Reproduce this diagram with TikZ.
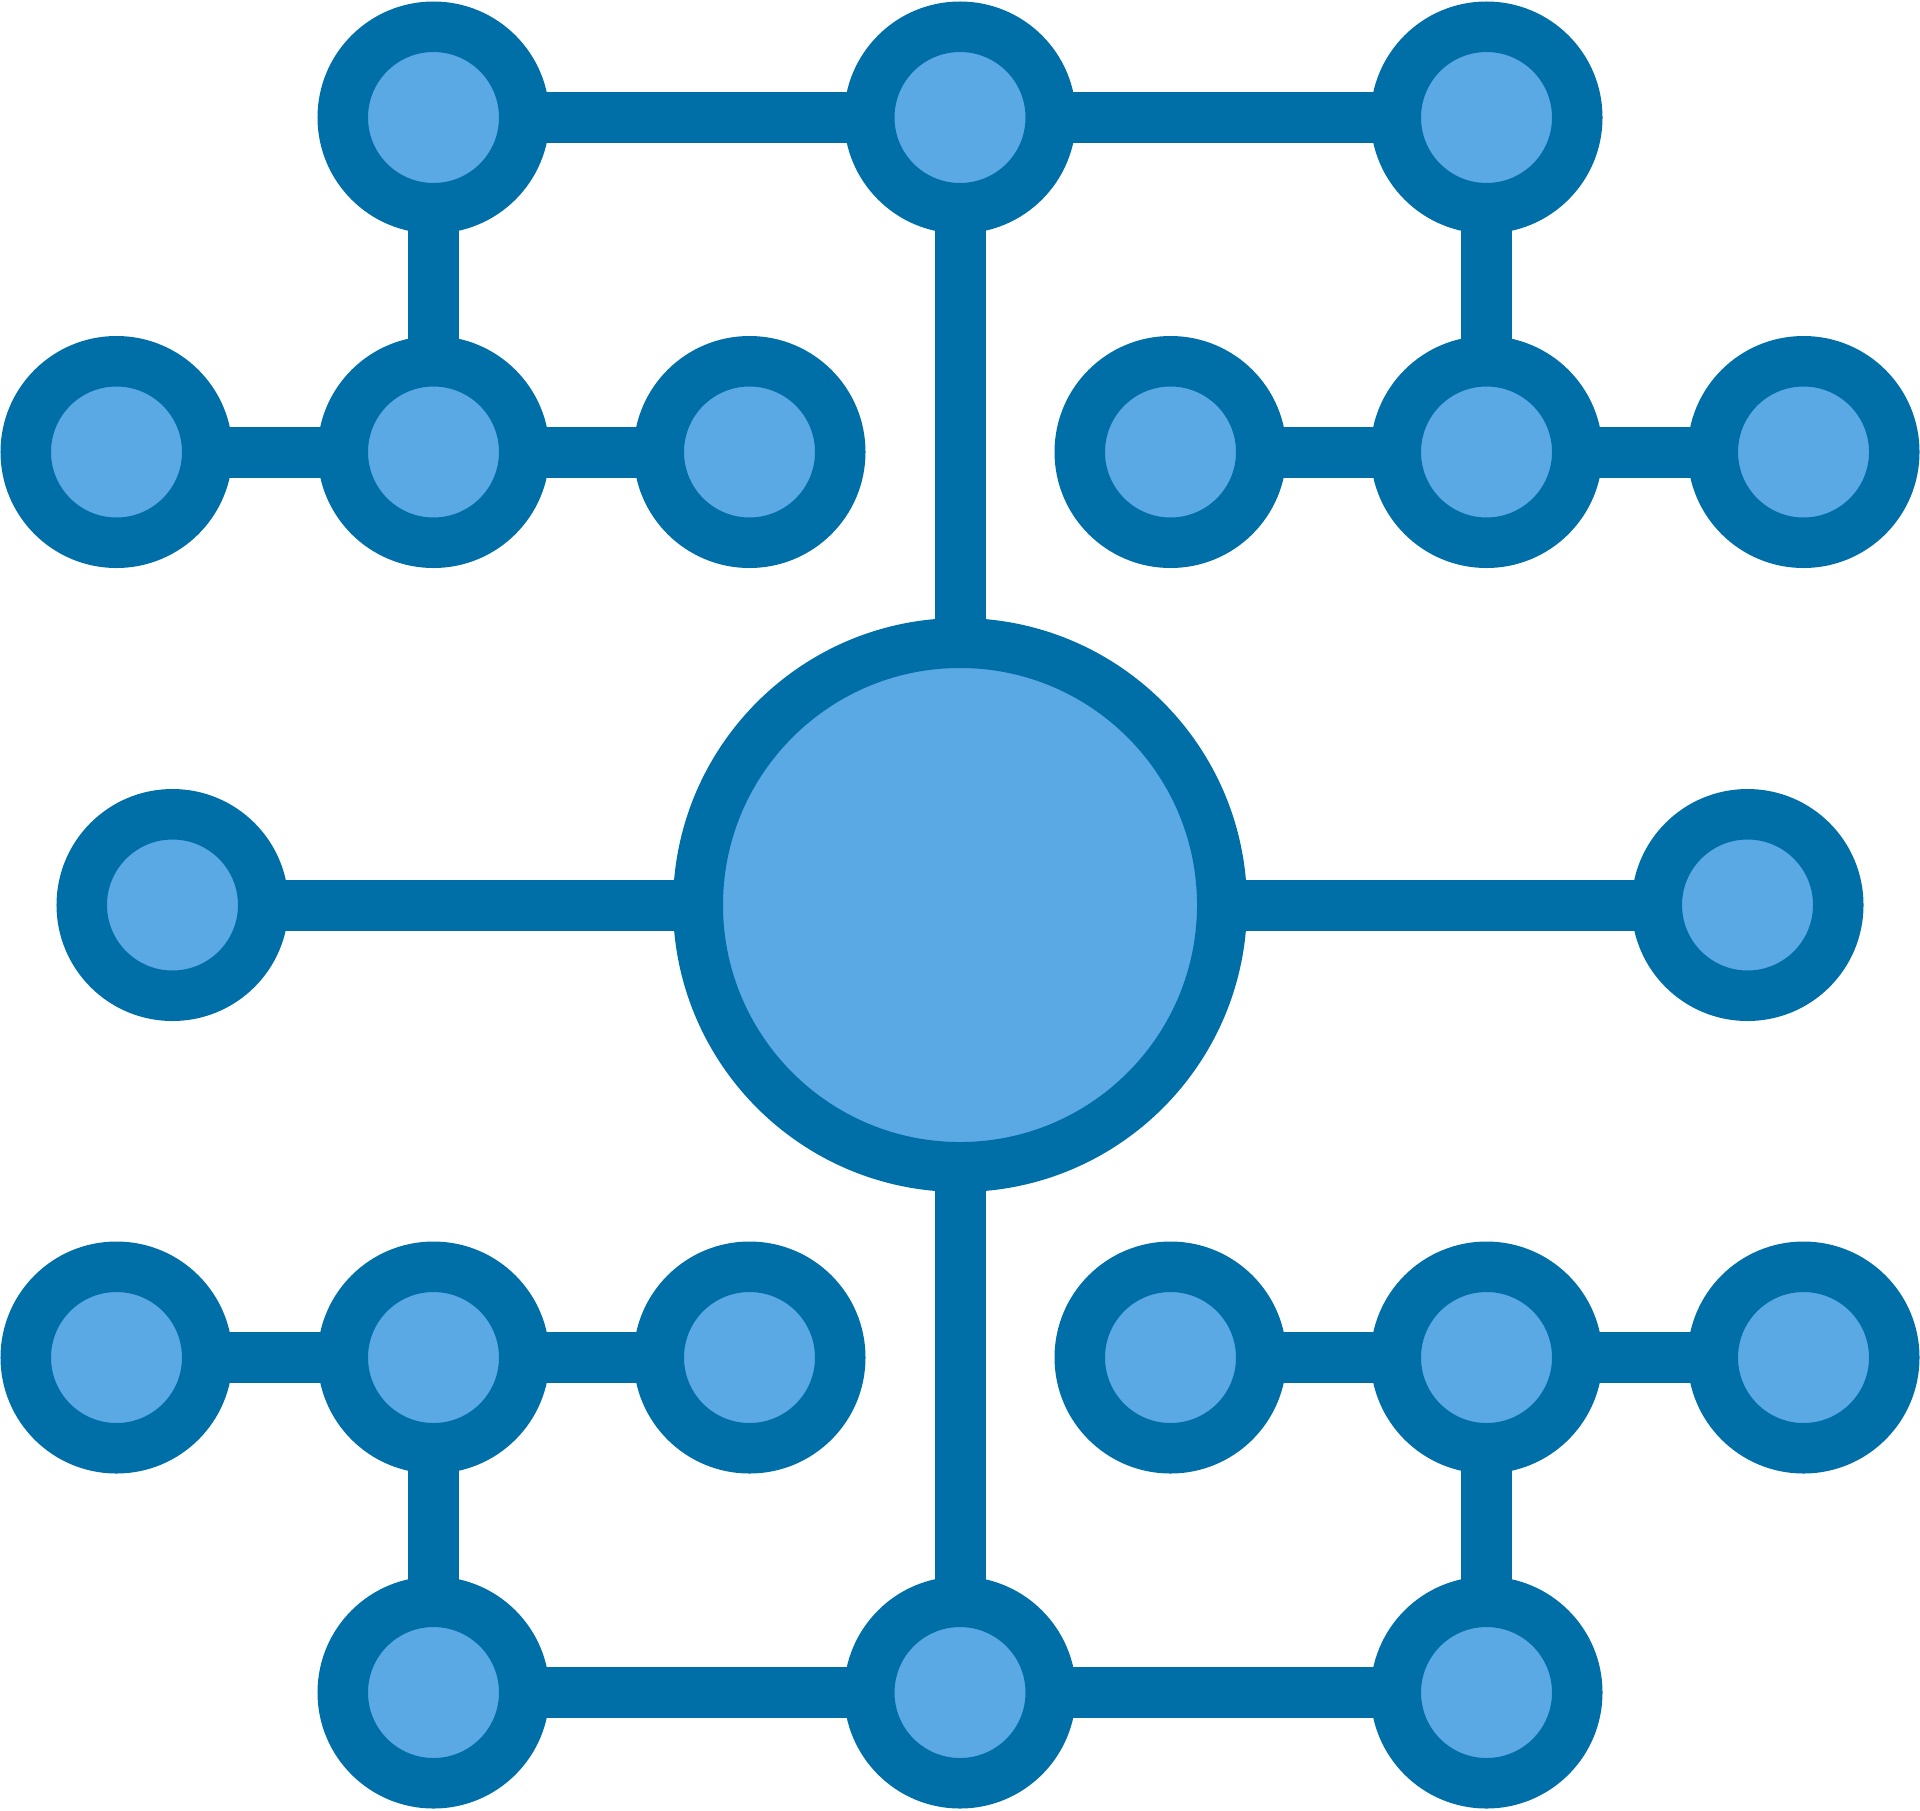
\documentclass[tikz,border=0pt]{standalone}
\usetikzlibrary{backgrounds}
\definecolor{darkb}{RGB}{0,111,168}
\definecolor{lightb}{RGB}{91,169,228}
\tikzset{
  small/.style={circle,draw=darkb,fill=lightb,line width=25.25pt,minimum size=90.75pt,inner sep=0pt},
  big/.style={circle,draw=darkb,fill=lightb,line width=25pt,minimum size=262pt,inner sep=0pt},
  link/.style={draw=darkb,line width=25.5pt}
}
\begin{document}
\begin{tikzpicture}[x=0.5pt,y=-0.5pt]
\useasboundingbox (0,0) rectangle (1920,1810);
% top row
\node[small] (t1) at (433.5,117.5) {};
\node[small] (t2) at (960,117.5) {};
\node[small] (t3) at (1486.5,117.5) {};
% second row
\node[small] (a1) at (116.5,452) {};
\node[small] (a2) at (433.5,452) {};
\node[small] (a3) at (749.5,452) {};
\node[small] (a4) at (1170.5,452) {};
\node[small] (a5) at (1486.5,452) {};
\node[small] (a6) at (1803.5,452) {};
% middle row
\node[small] (m1) at (172.5,905) {};
\node[big] (c) at (960,905) {};
\node[small] (m2) at (1747.5,905) {};
% fourth row
\node[small] (b1) at (116.5,1357.5) {};
\node[small] (b2) at (433.5,1357.5) {};
\node[small] (b3) at (749.5,1357.5) {};
\node[small] (b4) at (1170.5,1357.5) {};
\node[small] (b5) at (1486.5,1357.5) {};
\node[small] (b6) at (1803.5,1357.5) {};
% bottom row
\node[small] (d1) at (433.5,1692.5) {};
\node[small] (d2) at (960,1692.5) {};
\node[small] (d3) at (1486.5,1692.5) {};
\begin{scope}[on background layer]
\draw[link] (t1.center) -- (t2.center) -- (t3.center);
\draw[link] (t1.center) -- (a2.center);
\draw[link] (t3.center) -- (a5.center);
\draw[link] (t2.center) -- (c.center) -- (d2.center);
\draw[link] (a1.center) -- (a2.center) -- (a3.center);
\draw[link] (a4.center) -- (a5.center) -- (a6.center);
\draw[link] (m1.center) -- (c.center) -- (m2.center);
\draw[link] (b1.center) -- (b2.center) -- (b3.center);
\draw[link] (b4.center) -- (b5.center) -- (b6.center);
\draw[link] (b2.center) -- (d1.center);
\draw[link] (b5.center) -- (d3.center);
\draw[link] (d1.center) -- (d2.center) -- (d3.center);
\end{scope}
\end{tikzpicture}
\end{document}
